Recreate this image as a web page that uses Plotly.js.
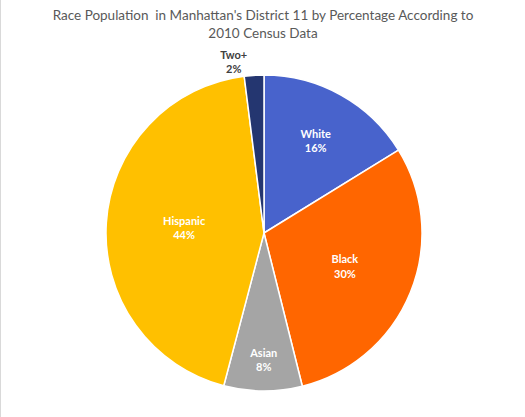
<!DOCTYPE html>
<html>
<head>
<meta charset="utf-8">
<script src="https://cdn.plot.ly/plotly-3.0.1.min.js"></script>
<style>
html,body{margin:0;padding:0;background:#fff;}
#chart{width:524px;height:417px;border-left:1px solid #d9d9d9;}
</style>
</head>
<body>
<div id="chart"></div>
<script>
const categories = ["White", "Black", "Asian", "Hispanic", "Two+"];
const percentages = [16.2, 29.9, 8.0, 43.9, 2.0];
const sliceColors = ["#4863CC", "#FF6600", "#A5A5A5", "#FFC000", "#243670"];
const titleText = "Race Population  in Manhattan's District 11 by Percentage According to<br>2010 Census Data";

const trace = {
  type: "pie",
  labels: categories,
  values: percentages,
  sort: false,
  direction: "clockwise",
  rotation: 0,
  marker: {colors: sliceColors, line: {color: "#ffffff", width: 1.5}},
  texttemplate: "%{label}<br>%{percent:.0%}",
  textposition: ["inside", "inside", "inside", "inside", "outside"],
  insidetextorientation: "horizontal",
  textfont: {family: "Lato, sans-serif", size: 11, weight: "bold",
             color: ["#ffffff", "#ffffff", "#ffffff", "#ffffff", "#404040"]},
  hoverinfo: "label+percent",
  showlegend: false
};

const layout = {
  width: 524,
  height: 417,
  margin: {l: 105, r: 103, t: 75, b: 26},
  paper_bgcolor: "#ffffff",
  title: {
    text: titleText,
    font: {family: "Lato, sans-serif", size: 13.5, color: "#595959"},
    x: 0.5, xanchor: "center", y: 0.951, yanchor: "middle"
  }
};

Plotly.newPlot("chart", [trace], layout, {displayModeBar: false, staticPlot: true});
</script>
</body>
</html>
